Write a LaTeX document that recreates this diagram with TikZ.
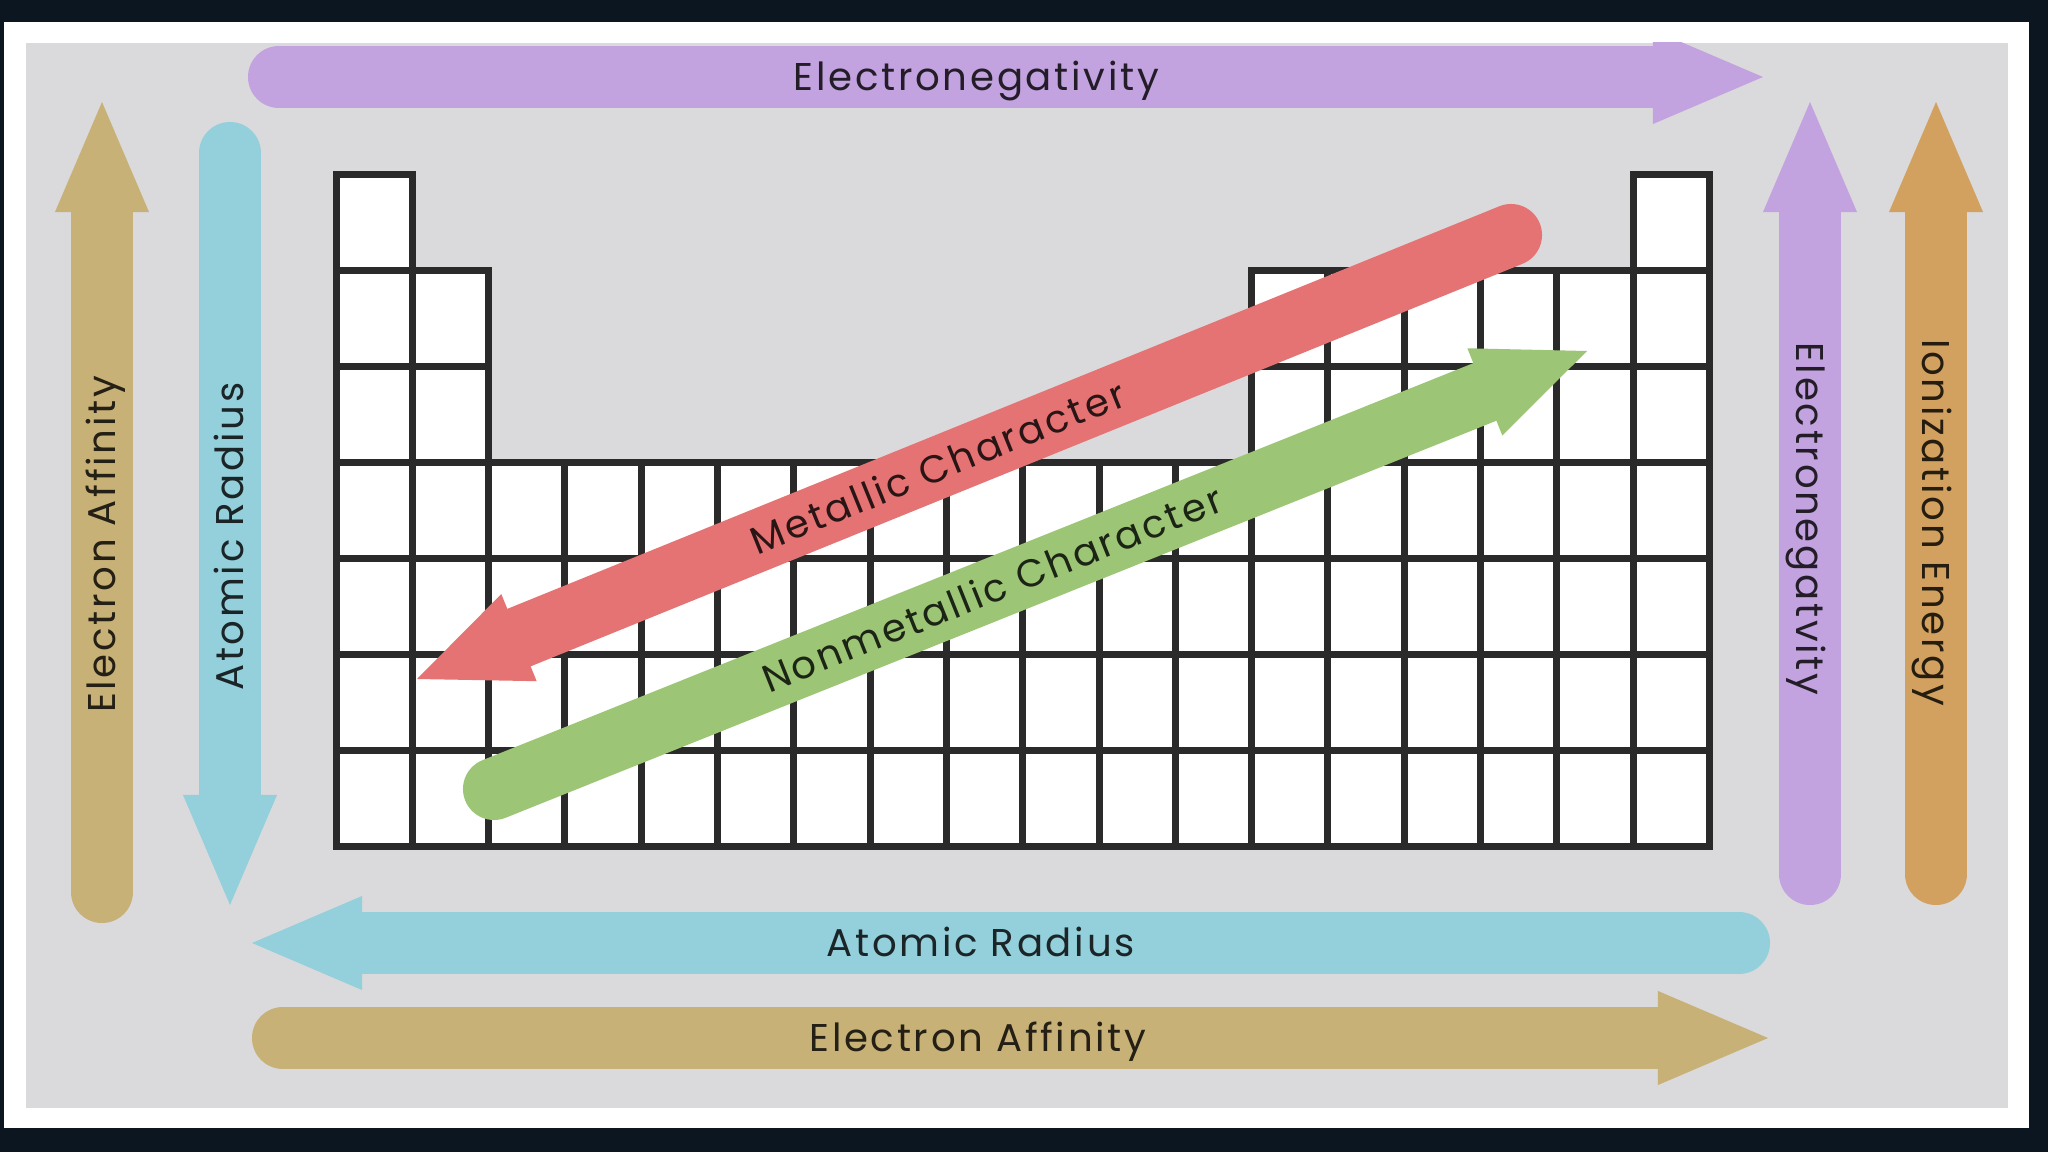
\documentclass[tikz,border=0pt]{standalone}
\usepackage{fontspec}
\setmainfont{Poppins}
\newfontfamily\barfont[LetterSpace=7]{Poppins}
\usetikzlibrary{arrows.meta}

\definecolor{navy}{RGB}{11,22,33}
\definecolor{paper}{RGB}{218,218,220}
\definecolor{gridline}{RGB}{42,42,42}
\definecolor{lilac}{RGB}{195,162,224}
\definecolor{sand}{RGB}{200,177,118}
\definecolor{sky}{RGB}{148,208,219}
\definecolor{ochre}{RGB}{211,161,95}
\definecolor{coral}{RGB}{230,115,115}
\definecolor{leaf}{RGB}{156,198,117}

\begin{document}
\begin{tikzpicture}[
  x=0.01cm, y=-0.01cm,
  cell/.style={draw=gridline, fill=white, line width=0.07cm},
  trend/.style={draw=#1, line width=0.62cm, line cap=round,
    -{Triangle[length=1.1cm 0, width=0.94cm 0, line width=0pt 0]}},
  tag/.style={font=\barfont\fontsize{11pt}{13pt}\selectfont, text=black!82!#1,
    inner sep=0pt, text height=7.7pt, text depth=0pt}
]
\useasboundingbox (0,0) rectangle (2048,1152);

% Frame
\fill[navy] (0,0) rectangle (2048,1152);
\fill[white] (4,22) rectangle (2029,1128);
\fill[paper] (26,43) rectangle (2008,1108);

% Periodic table - first row
\foreach \c in {1,18}
  \draw[cell] ({336+(\c-1)*76.3},175) rectangle ++(76.3,95.9);
% Rows 2 and 3
\foreach \r in {2,3}
  \foreach \c in {1,2,13,14,15,16,17,18}
    \draw[cell] ({336+(\c-1)*76.3},{175+(\r-1)*95.9}) rectangle ++(76.3,95.9);
% Rows 4 to 7
\foreach \r in {4,...,7}
  \foreach \c in {1,...,18}
    \draw[cell] ({336+(\c-1)*76.3},{175+(\r-1)*95.9}) rectangle ++(76.3,95.9);

\begin{scope}
\clip (26,43) rectangle (2008,1108);

% Ends of the trend arrows
\coordinate (neg-tail) at (279,77);
\coordinate (neg-tip) at (1763,77);
\coordinate (aff-tail) at (102,892);
\coordinate (aff-tip) at (102,102);
\coordinate (rad-tail) at (230,153);
\coordinate (rad-tip) at (230,905);
\coordinate (negv-tail) at (1810,874);
\coordinate (negv-tip) at (1810,102);
\coordinate (ion-tail) at (1936,874);
\coordinate (ion-tip) at (1936,102);
\coordinate (radh-tail) at (1739,943);
\coordinate (radh-tip) at (252,943);
\coordinate (affh-tail) at (283,1038);
\coordinate (affh-tip) at (1768,1038);
\coordinate (met-tail) at (1511,235);
\coordinate (met-tip) at (417,679);
\coordinate (non-tail) at (494,789);
\coordinate (non-tip) at (1587,351);

% Top and bottom arrows
\draw[trend=lilac] (neg-tail) -- (neg-tip)
  node[tag=lilac, pos=0.47] (neg-label) {Electronegativity};
\draw[trend=sky] (radh-tail) -- (radh-tip)
  node[tag=sky, pos=0.51] (radh-label) {Atomic Radius};
\draw[trend=sand] (affh-tail) -- (affh-tip)
  node[tag=sand, pos=0.468] (affh-label) {Electron Affinity};

% Left arrows
\draw[trend=sand] (aff-tail) -- (aff-tip)
  node[tag=sand, pos=0.44, rotate=90] (aff-label) {Electron Affinity};
\draw[trend=sky] (rad-tail) -- (rad-tip)
  node[tag=sky, pos=0.51, rotate=90] (rad-label) {Atomic Radius};

% Right arrows
\draw[trend=lilac] (negv-tail) -- (negv-tip)
  node[tag=lilac, pos=0.46, rotate=-90] (negv-label) {Electronegatvity};
\draw[trend=ochre] (ion-tail) -- (ion-tip)
  node[tag=ochre, pos=0.455, rotate=-90] (ion-label) {Ionization Energy};

% Diagonal arrows over the table
\draw[trend=coral] (met-tail) -- (met-tip)
  node[tag=coral, pos=0.524, sloped] (met-label) {Metallic Character};
\draw[trend=leaf] (non-tail) -- (non-tip)
  node[tag=leaf, pos=0.456, sloped] (non-label) {Nonmetallic Character};
\end{scope}

\end{tikzpicture}
\end{document}
